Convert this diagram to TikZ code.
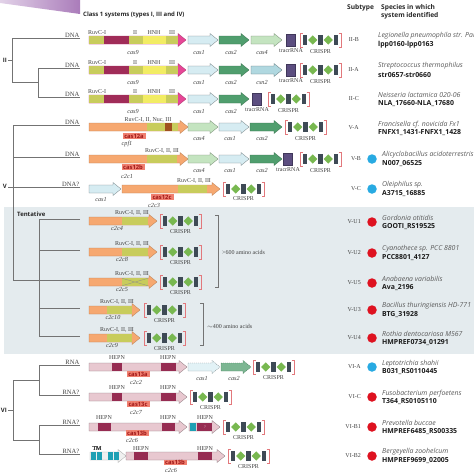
\documentclass[tikz,border=0pt]{standalone}
\usepackage{fontspec}
\setmainfont{Liberation Serif}
\setsansfont{Open Sans}
\usepackage{tikz}
\usetikzlibrary{positioning}
\definecolor{ruvcgreen}{RGB}{200,204,92}
\definecolor{bhmagenta}{RGB}{160,44,88}
\definecolor{hnhyellow}{RGB}{242,236,100}
\definecolor{cas9pink}{RGB}{230,70,150}
\definecolor{cas1blue}{RGB}{214,236,242}
\definecolor{cas2green}{RGB}{80,158,110}
\definecolor{cas4green}{RGB}{196,228,192}
\definecolor{csn2blue}{RGB}{176,216,224}
\definecolor{tracrpurple}{RGB}{92,78,128}
\definecolor{rptgray}{RGB}{62,74,86}
\definecolor{spcgreen}{RGB}{120,184,80}
\definecolor{brkred}{RGB}{226,120,124}
\definecolor{cas12orange}{RGB}{246,168,112}
\definecolor{nucbrown}{RGB}{160,80,30}
\definecolor{cas13pink}{RGB}{232,200,208}
\definecolor{hepnred}{RGB}{150,44,82}
\definecolor{tmteal}{RGB}{30,160,180}
\definecolor{namebg}{RGB}{240,128,112}
\definecolor{namefg}{RGB}{160,24,24}
\definecolor{tentbg}{RGB}{228,235,238}
\definecolor{dotblue}{RGB}{40,170,226}
\definecolor{dotred}{RGB}{222,18,32}
\definecolor{wedgelight}{RGB}{226,210,232}
\definecolor{wedgedark}{RGB}{170,124,186}

% gene arrow: style, x start, x end, y
\newcommand{\genearrow}[4]{%
  \path[#1] (#2,#4-4) -- (#3-8,#4-4) -- (#3-8,#4-6.5) -- (#3,#4)
    -- (#3-8,#4+6.5) -- (#3-8,#4+4) -- (#2,#4+4) -- cycle;}
% domain inside a gene: style, x start, x end, y
\newcommand{\domain}[4]{\fill[#1] (#2,#4-3.7) rectangle (#3,#4+3.7);}
% CRISPR array: name of label, x, y, label offset
\newcommand{\crisprarray}[4]{%
  \draw[brk] (#2+2.5,#3-7) -- (#2,#3-7) -- (#2,#3+7) -- (#2+2.5,#3+7);
  \draw[brk] (#2+38.5,#3-7) -- (#2+41,#3-7) -- (#2+41,#3+7) -- (#2+38.5,#3+7);
  \foreach \k in {0,2,4}
    \fill[rpt] (#2+5+\k*7.75-2.2,#3-5) rectangle +(4.4,10);
  \foreach \k in {1,3}
    \fill[spc] (#2+5+\k*7.75,#3-4.6) -- +(4.6,4.6) -- +(0,9.2) -- +(-4.6,4.6) -- cycle;
  \node[lbl] (#1) at (#2+20.5,#3+#4) {CRISPR};}

\begin{document}
\begin{tikzpicture}[x=1pt, y=-1pt,
    tree/.style={draw=black!55, line width=0.5pt},
    lbl/.style={font=\fontsize{6}{7}\selectfont, text=black!75, inner sep=0pt},
    gname/.style={font=\fontsize{6.2}{7}\selectfont\itshape, text=black!75, inner sep=0pt},
    mol/.style={lbl, font=\fontsize{6.5}{7}\selectfont, anchor=south east, inner sep=0.6pt},
    namebox/.style={fill=namebg, text=namefg, inner sep=0.6pt, minimum width=23pt,
                    font=\sffamily\bfseries\fontsize{5.8}{6}\selectfont},
    head/.style={font=\sffamily\bfseries\fontsize{6}{8}\selectfont, text=black!85, inner sep=0pt},
    colhead/.style={head, font=\sffamily\bfseries\fontsize{6.6}{8.4}\selectfont},
    typelbl/.style={head, anchor=east},
    subtype/.style={lbl, anchor=east},
    species/.style={anchor=west, font=\sffamily\itshape\fontsize{6.9}{8}\selectfont, text=black!65, inner sep=0pt},
    locus/.style={anchor=west, font=\sffamily\bfseries\fontsize{6.9}{8}\selectfont, text=black!90, inner sep=0pt},
    sdot/.style={circle, inner sep=0pt, minimum size=9.5pt},
    gcas9/.style={fill=cas9pink, draw=cas9pink!75!black, line width=0.3pt},
    gcas1/.style={fill=cas1blue, draw=cas1blue!55!black, line width=0.3pt},
    gcas2/.style={fill=cas2green, draw=cas2green!70!black, line width=0.3pt},
    gcas4/.style={fill=cas4green, draw=cas4green!60!black, line width=0.3pt},
    gcsn2/.style={fill=csn2blue, draw=csn2blue!55!black, line width=0.3pt},
    gcas12/.style={fill=cas12orange, draw=cas12orange!75!black, line width=0.3pt},
    gcas13/.style={fill=cas13pink, draw=cas13pink!60!black, line width=0.3pt},
    gtm/.style={fill=black!6, draw=black!35, line width=0.3pt},
    gcas1dash/.style={gcas1, fill=cas1blue!70, dash pattern=on 1.2pt off 0.8pt},
    gcas2dash/.style={gcas2, fill=cas2green!75, dash pattern=on 1.2pt off 0.8pt},
    ruvc/.style={fill=ruvcgreen}, bh/.style={fill=bhmagenta}, hnh/.style={fill=hnhyellow},
    nuc/.style={fill=nucbrown}, hepn/.style={fill=hepnred}, tm/.style={fill=tmteal},
    tracr/.style={fill=tracrpurple, draw=tracrpurple!70!black, line width=0.3pt,
                  minimum width=9pt, minimum height=12pt, inner sep=0pt},
    brk/.style={draw=brkred, line width=0.7pt},
    rpt/.style={fill=rptgray}, spc/.style={fill=spcgreen},
  ]
  \useasboundingbox (0,0) rectangle (474,474);
  \clip (0,0) rectangle (474,474);

  % header
  \shade[left color=wedgelight, right color=wedgedark] (0,0) -- (80,0) -- (80,14) -- (0,3) -- cycle;
  \node[head, anchor=west] (class1) at (83,15) {Class 1 systems (types I, III and IV)};
  \node[colhead, anchor=west] (subhead) at (347,8) {Subtype};
  \node[colhead, anchor=north west, align=left] (sphead) at (381,4) {Species in which\\system identified};

  % tentative panel
  \fill[tentbg] (4,207) rectangle (474,354);
  \node[head, anchor=west] (tent) at (17,214) {Tentative};

  % tree
  \node[typelbl] (t2) at (7,60) {II};
  \draw[tree] (8,60) -- (12,60);
  \draw[tree] (80,38) -- (12,38) -- (12,82) -- (38,82);
  \draw[tree] (80,68) -- (38,68) -- (38,97) -- (80,97);
  \node[typelbl] (t5) at (7,186) {V};
  \draw[tree] (8,187) -- (80,187);
  \draw[tree] (80,125) -- (13,125) -- (13,280) -- (80,280);
  \draw[tree] (13,157) -- (80,157);
  \draw[tree] (80,219) -- (39,219) -- (39,336) -- (80,336);
  \draw[tree] (39,250) -- (80,250);
  \draw[tree] (39,308) -- (80,308);
  \node[typelbl] (t6) at (7,410) {VI};
  \draw[tree] (8,410) -- (13,410);
  \draw[tree] (39,380) -- (13,380) -- (13,440) -- (39,440);
  \draw[tree] (80,365) -- (39,365) -- (39,395) -- (80,395);
  \draw[tree] (80,425) -- (39,425) -- (39,454) -- (80,454);
  \foreach \liney/\moltype [count=\n] in {38/DNA, 68/DNA, 97/DNA, 125/DNA, 157/DNA,
      187/DNA?, 365/RNA, 395/RNA?, 425/RNA?, 454/RNA?}
    \node[mol] (mol\n) at (80,\liney) {\moltype};

  % type II loci
  \foreach \rowy [count=\n] in {40, 70, 99} {
    \genearrow{gcas9}{89}{186}{\rowy}
    \domain{ruvc}{89}{104}{\rowy} \domain{bh}{104}{129}{\rowy}
    \domain{ruvc}{129}{143}{\rowy} \domain{hnh}{143}{166}{\rowy}
    \domain{ruvc}{166}{178}{\rowy}
    \genearrow{gcas1}{188}{218}{\rowy}
    \genearrow{gcas2}{219}{249}{\rowy}
    \node[lbl] (r\n ruvc) at (97,\rowy-7) {RuvC-I};
    \node[lbl] (r\n ii) at (135,\rowy-7) {II};
    \node[lbl] (r\n hnh) at (154,\rowy-7) {HNH};
    \node[lbl] (r\n iii) at (172,\rowy-7) {III};
    \node[gname] (r\n cas9) at (133,\rowy+12) {cas9};
    \node[gname] (r\n cas1) at (199,\rowy+12) {cas1};
    \node[gname] (r\n cas2) at (231,\rowy+12) {cas2};
  }
  \genearrow{gcas4}{251}{282}{40}
  \node[gname] (r1cas4) at (262,52) {cas4};
  \node[tracr] (r1tr) at (291,40) {};
  \node[lbl, below=2pt of r1tr] (r1trl) {tracrRNA};
  \crisprarray{r1cr}{300}{40}{12}
  \genearrow{gcsn2}{251}{282}{70}
  \node[gname] (r2csn2) at (262,82) {csn2};
  \node[tracr] (r2tr) at (291,70) {};
  \node[lbl, below=2pt of r2tr] (r2trl) {tracrRNA};
  \crisprarray{r2cr}{300}{70}{12}
  \node[tracr] (r3tr) at (257,99) {};
  \node[lbl, below=2pt of r3tr] (r3trl) {tracrRNA};
  \crisprarray{r3cr}{268}{99}{12}

  % V-A
  \genearrow{gcas12}{89}{188}{127}
  \domain{ruvc}{147}{165}{127} \domain{nuc}{165}{172}{127} \domain{ruvc}{172}{178}{127}
  \node[lbl] (r4ruvc) at (148,120) {RuvC-I, II, Nuc, III};
  \node[namebox] (r4name) at (134,136) {cas12a};
  \node[gname] (r4alt) at (127,144) {cpf1};
  % V-B
  \genearrow{gcas12}{89}{188}{159}
  \domain{ruvc}{147}{177}{159}
  \node[lbl] (r5ruvc) at (162,151) {RuvC-I, II, III};
  \node[namebox] (r5name) at (133,167) {cas12b};
  \node[gname] (r5alt) at (127,176) {c2c1};
  \foreach \rowy [count=\n from 4] in {127,159} {
    \genearrow{gcas4}{188}{218}{\rowy}
    \genearrow{gcas1}{219}{249}{\rowy}
    \genearrow{gcas2}{250}{282}{\rowy}
    \node[gname] (r\n cas4) at (199,\rowy+11.5) {cas4};
    \node[gname] (r\n cas1) at (230,\rowy+11.5) {cas1};
    \node[gname] (r\n cas2) at (262,\rowy+11.5) {cas2};
  }
  \crisprarray{r4cr}{285}{127}{11.5}
  \node[tracr] (r5tr) at (288,159) {};
  \node[lbl, below=2pt of r5tr] (r5trl) {tracrRNA};
  \crisprarray{r5cr}{300}{159}{12}
  % V-C
  \genearrow{gcas1}{89}{121}{189}
  \node[gname] (r6cas1) at (101,199) {cas1};
  \genearrow{gcas12}{122}{220}{189}
  \domain{ruvc}{178}{207}{189}
  \node[lbl] (r6ruvc) at (194,181) {RuvC-I, II, III};
  \node[namebox] (r6name) at (162,197) {cas12c};
  \node[gname] (r6alt) at (154,205) {c2c3};
  \crisprarray{r6cr}{223}{189}{10}

  % tentative loci
  \foreach \rowy/\alt/\altx [count=\n from 7] in {221/c2c4/117, 252/c2c8/122, 282/c2c5/122} {
    \genearrow{gcas12}{89}{157}{\rowy}
    \domain{ruvc}{122}{148}{\rowy}
    \node[lbl] (r\n ruvc) at (132,\rowy-8) {RuvC-I, II, III};
    \node[gname] (r\n alt) at (\altx,\rowy+7.5) {\alt};
    \crisprarray{r\n cr}{160}{\rowy}{11}
  }
  \draw[black!45, line width=0.3pt] (122,278.3) -- (148,285.7) (122,285.7) -- (148,278.3);
  \foreach \rowy/\alt/\altx [count=\n from 10] in {310/c2c10/113, 338/c2c9/112} {
    \genearrow{gcas12}{89}{140}{\rowy}
    \domain{ruvc}{107}{132}{\rowy}
    \node[lbl] (r\n ruvc) at (117,\rowy-8) {RuvC-I, II, III};
    \node[gname] (r\n alt) at (\altx,\rowy+7.5) {\alt};
    \crisprarray{r\n cr}{144}{\rowy}{11}
  }
  \draw[tree] (215,215) -- (218,215) -- (218,287) -- (215,287);
  \node[lbl, anchor=west] (aa600) at (222,252) {>600 amino acids};
  \draw[tree] (200,303) -- (203,303) -- (203,345) -- (200,345);
  \node[lbl, anchor=west] (aa400) at (207,326) {${\sim}$400 amino acids};

  % type VI loci
  \foreach \rowy/\name/\alt [count=\n from 12] in {367/cas13a/c2c2, 397/cas13c/c2c7} {
    \genearrow{gcas13}{89}{187}{\rowy}
    \domain{hepn}{112}{122}{\rowy} \domain{hepn}{161}{176}{\rowy}
    \node[lbl] (r\n hepna) at (117,\rowy-9) {HEPN};
    \node[lbl] (r\n hepnb) at (168,\rowy-9) {HEPN};
    \node[namebox] (r\n name) at (138,\rowy+7) {\name};
    \node[gname] (r\n alt) at (136,\rowy+15) {\alt};
  }
  \genearrow{gcas1dash}{188}{220}{367}
  \genearrow{gcas2dash}{221}{251}{367}
  \node[gname] (r12cas1) at (202,378) {cas1};
  \node[gname] (r12cas2) at (234,378) {cas2};
  \crisprarray{r12cr}{253}{367}{11}
  \crisprarray{r13cr}{190}{397}{11}
  % VI-B1
  \genearrow{gcas13}{89}{187}{427}
  \domain{hepn}{98}{111}{427} \domain{hepn}{162}{175}{427}
  \node[lbl] (r14hepna) at (104,418) {HEPN};
  \node[lbl] (r14hepnb) at (168,418) {HEPN};
  \node[namebox] (r14name) at (137,433) {cas13b};
  \node[gname] (r14alt) at (132,440.5) {c2c6};
  \genearrow{gcas13}{189}{220}{427}
  \domain{tm}{190}{195.5}{427} \domain{hepn}{197}{212}{427}
  \node[lbl] (r14hepnc) at (205,418) {HEPN};
  \node[font=\fontsize{4}{4}\selectfont, text=cas13pink, inner sep=0pt] (r14q) at (205,427) {?};
  \crisprarray{r14cr}{223}{427}{11}
  % VI-B2
  \genearrow{gtm}{90}{126}{456}
  \foreach \tx in {90.5,96.5,108,113.5} \domain{tm}{\tx}{\tx+5}{456}
  \node[lbl] (r15tm) at (97,448.5) {TM};
  \genearrow{gcas13}{126}{225}{456}
  \domain{hepn}{134}{148}{456} \domain{hepn}{198}{212}{456}
  \node[lbl] (r15hepna) at (141,448.5) {HEPN};
  \node[lbl] (r15hepnb) at (205,448.5) {HEPN};
  \node[namebox] (r15name) at (175,462.5) {cas13b};
  \node[gname] (r15alt) at (171,470) {c2c6};
  \crisprarray{r15cr}{228}{456}{11}

  % subtypes and species
  \foreach \rowy/\subt/\spec/\locid [count=\n] in {
      40/II-B/Legionella pneumophila str. Paris/lpp0160-lpp0163,
      70/II-A/Streptococcus thermophilus/str0657-str0660,
      99/II-C/Neisseria lactamica 020-06/NLA\_17660-NLA\_17680,
      128/V-A/Francisella cf. novicida Fx1/FNFX1\_1431-FNFX1\_1428} {
    \node[subtype] (st\n) at (359,\rowy) {\subt};
    \node[species] (sp\n) at (378,\rowy-3.8) {\spec};
    \node[locus] (id\n) at (378,\rowy+5) {\locid};
  }
  \foreach \rowy/\subt/\dotc/\spec/\locid [count=\n from 5] in {
      159/V-B/dotblue/Alicyclobacillus acidoterrestris/N007\_06525,
      189/V-C/dotblue/Oleiphilus sp./A3715\_16885,
      222/V-U1/dotred/Gordonia otitidis/GOOTI\_RS19525,
      253/V-U2/dotred/Cyanothece sp. PCC 8801/PCC8801\_4127,
      283/V-U5/dotred/Anabaena variabilis/Ava\_2196,
      310/V-U3/dotred/Bacillus thuringiensis HD-771/BTG\_31928,
      338/V-U4/dotred/Rothia dentocariosa M567/HMPREF0734\_01291,
      367/VI-A/dotblue/Leptotrichia shahii/B031\_RS0110445,
      397/VI-C/dotred/Fusobacterium perfoetens/T364\_RS0105110,
      427/VI-B1/dotred/Prevotella buccae/HMPREF6485\_RS00335,
      456/VI-B2/dotred/Bergeyella zoohelcum/HMPREF9699\_02005} {
    \node[subtype] (st\n) at (361,\rowy) {\subt};
    \node[sdot, fill=\dotc] (dot\n) at (372,\rowy) {};
    \node[species] (sp\n) at (382,\rowy-3.8) {\spec};
    \node[locus] (id\n) at (382,\rowy+5) {\locid};
  }
\end{tikzpicture}
\end{document}
